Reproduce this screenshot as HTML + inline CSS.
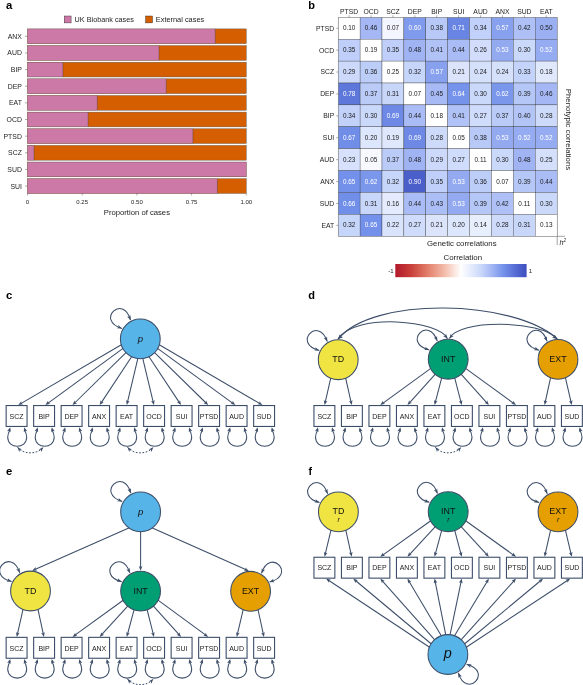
<!DOCTYPE html>
<html lang="en"><head><meta charset="utf-8"><title>Figure</title>
<style>html,body{margin:0;padding:0;background:#fff}svg{display:block}text{font-family:"Liberation Sans",Arial,sans-serif}</style></head><body>
<svg width="583" height="685" viewBox="0 0 583 685" fill="#222">
<rect width="583" height="685" fill="#fff"/>
<text x="6" y="9.2" font-size="11.3" font-weight="bold" fill="#000">a</text>
<rect x="64.2" y="16" width="6.9" height="6.9" fill="#cc79a7" stroke="#222" stroke-width="0.4"/>
<text x="74.6" y="22" font-size="7.1" textLength="59.3" lengthAdjust="spacingAndGlyphs">UK Biobank cases</text>
<rect x="145.6" y="16" width="6.9" height="6.9" fill="#d55e00" stroke="#222" stroke-width="0.4"/>
<text x="155.8" y="22" font-size="7.1" textLength="48.4" lengthAdjust="spacingAndGlyphs">External cases</text>
<rect x="27.5" y="28.9" width="218.8" height="14.8" fill="#d55e00"/>
<rect x="27.5" y="28.9" width="187.73" height="14.8" fill="#cc79a7"/>
<line x1="215.23" y1="28.9" x2="215.23" y2="43.7" stroke="#333" stroke-width="0.35"/>
<rect x="27.5" y="28.9" width="218.8" height="14.8" fill="none" stroke="#555" stroke-width="0.4"/>
<line x1="25" y1="36.3" x2="27.5" y2="36.3" stroke="#333" stroke-width="0.4"/>
<text x="21.9" y="38.75" font-size="6.9" text-anchor="end">ANX</text>
<rect x="27.5" y="45.54" width="218.8" height="14.8" fill="#d55e00"/>
<rect x="27.5" y="45.54" width="131.5" height="14.8" fill="#cc79a7"/>
<line x1="159" y1="45.54" x2="159" y2="60.34" stroke="#333" stroke-width="0.35"/>
<rect x="27.5" y="45.54" width="218.8" height="14.8" fill="none" stroke="#555" stroke-width="0.4"/>
<line x1="25" y1="52.94" x2="27.5" y2="52.94" stroke="#333" stroke-width="0.4"/>
<text x="21.9" y="55.39" font-size="6.9" text-anchor="end">AUD</text>
<rect x="27.5" y="62.18" width="218.8" height="14.8" fill="#d55e00"/>
<rect x="27.5" y="62.18" width="35.45" height="14.8" fill="#cc79a7"/>
<line x1="62.95" y1="62.18" x2="62.95" y2="76.98" stroke="#333" stroke-width="0.35"/>
<rect x="27.5" y="62.18" width="218.8" height="14.8" fill="none" stroke="#555" stroke-width="0.4"/>
<line x1="25" y1="69.58" x2="27.5" y2="69.58" stroke="#333" stroke-width="0.4"/>
<text x="21.9" y="72.03" font-size="6.9" text-anchor="end">BIP</text>
<rect x="27.5" y="78.82" width="218.8" height="14.8" fill="#d55e00"/>
<rect x="27.5" y="78.82" width="138.72" height="14.8" fill="#cc79a7"/>
<line x1="166.22" y1="78.82" x2="166.22" y2="93.62" stroke="#333" stroke-width="0.35"/>
<rect x="27.5" y="78.82" width="218.8" height="14.8" fill="none" stroke="#555" stroke-width="0.4"/>
<line x1="25" y1="86.22" x2="27.5" y2="86.22" stroke="#333" stroke-width="0.4"/>
<text x="21.9" y="88.67" font-size="6.9" text-anchor="end">DEP</text>
<rect x="27.5" y="95.46" width="218.8" height="14.8" fill="#d55e00"/>
<rect x="27.5" y="95.46" width="69.8" height="14.8" fill="#cc79a7"/>
<line x1="97.3" y1="95.46" x2="97.3" y2="110.26" stroke="#333" stroke-width="0.35"/>
<rect x="27.5" y="95.46" width="218.8" height="14.8" fill="none" stroke="#555" stroke-width="0.4"/>
<line x1="25" y1="102.86" x2="27.5" y2="102.86" stroke="#333" stroke-width="0.4"/>
<text x="21.9" y="105.31" font-size="6.9" text-anchor="end">EAT</text>
<rect x="27.5" y="112.1" width="218.8" height="14.8" fill="#d55e00"/>
<rect x="27.5" y="112.1" width="60.61" height="14.8" fill="#cc79a7"/>
<line x1="88.11" y1="112.1" x2="88.11" y2="126.9" stroke="#333" stroke-width="0.35"/>
<rect x="27.5" y="112.1" width="218.8" height="14.8" fill="none" stroke="#555" stroke-width="0.4"/>
<line x1="25" y1="119.5" x2="27.5" y2="119.5" stroke="#333" stroke-width="0.4"/>
<text x="21.9" y="121.95" font-size="6.9" text-anchor="end">OCD</text>
<rect x="27.5" y="128.74" width="218.8" height="14.8" fill="#d55e00"/>
<rect x="27.5" y="128.74" width="165.41" height="14.8" fill="#cc79a7"/>
<line x1="192.91" y1="128.74" x2="192.91" y2="143.54" stroke="#333" stroke-width="0.35"/>
<rect x="27.5" y="128.74" width="218.8" height="14.8" fill="none" stroke="#555" stroke-width="0.4"/>
<line x1="25" y1="136.14" x2="27.5" y2="136.14" stroke="#333" stroke-width="0.4"/>
<text x="21.9" y="138.59" font-size="6.9" text-anchor="end">PTSD</text>
<rect x="27.5" y="145.38" width="218.8" height="14.8" fill="#d55e00"/>
<rect x="27.5" y="145.38" width="6.56" height="14.8" fill="#cc79a7"/>
<line x1="34.06" y1="145.38" x2="34.06" y2="160.18" stroke="#333" stroke-width="0.35"/>
<rect x="27.5" y="145.38" width="218.8" height="14.8" fill="none" stroke="#555" stroke-width="0.4"/>
<line x1="25" y1="152.78" x2="27.5" y2="152.78" stroke="#333" stroke-width="0.4"/>
<text x="21.9" y="155.23" font-size="6.9" text-anchor="end">SCZ</text>
<rect x="27.5" y="162.02" width="218.8" height="14.8" fill="#d55e00"/>
<rect x="27.5" y="162.02" width="218.8" height="14.8" fill="#cc79a7"/>
<rect x="27.5" y="162.02" width="218.8" height="14.8" fill="none" stroke="#555" stroke-width="0.4"/>
<line x1="25" y1="169.42" x2="27.5" y2="169.42" stroke="#333" stroke-width="0.4"/>
<text x="21.9" y="171.87" font-size="6.9" text-anchor="end">SUD</text>
<rect x="27.5" y="178.66" width="218.8" height="14.8" fill="#d55e00"/>
<rect x="27.5" y="178.66" width="189.92" height="14.8" fill="#cc79a7"/>
<line x1="217.42" y1="178.66" x2="217.42" y2="193.46" stroke="#333" stroke-width="0.35"/>
<rect x="27.5" y="178.66" width="218.8" height="14.8" fill="none" stroke="#555" stroke-width="0.4"/>
<line x1="25" y1="186.06" x2="27.5" y2="186.06" stroke="#333" stroke-width="0.4"/>
<text x="21.9" y="188.51" font-size="6.9" text-anchor="end">SUI</text>
<line x1="27.5" y1="193.4" x2="27.5" y2="195.5" stroke="#333" stroke-width="0.4"/>
<text x="27.5" y="203.7" font-size="6" text-anchor="middle">0</text>
<line x1="82.2" y1="193.4" x2="82.2" y2="195.5" stroke="#333" stroke-width="0.4"/>
<text x="82.2" y="203.7" font-size="6" text-anchor="middle">0.25</text>
<line x1="136.9" y1="193.4" x2="136.9" y2="195.5" stroke="#333" stroke-width="0.4"/>
<text x="136.9" y="203.7" font-size="6" text-anchor="middle">0.50</text>
<line x1="191.6" y1="193.4" x2="191.6" y2="195.5" stroke="#333" stroke-width="0.4"/>
<text x="191.6" y="203.7" font-size="6" text-anchor="middle">0.75</text>
<line x1="246.3" y1="193.4" x2="246.3" y2="195.5" stroke="#333" stroke-width="0.4"/>
<text x="246.3" y="203.7" font-size="6" text-anchor="middle">1.00</text>
<text x="136.9" y="215.4" font-size="7.1" text-anchor="middle" textLength="66.2" lengthAdjust="spacingAndGlyphs">Proportion of cases</text>
<text x="308.2" y="8.9" font-size="11" font-weight="bold" fill="#000">b</text>
<rect x="338.2" y="17.3" width="21.9" height="21.9" fill="#ffffff" stroke="#222" stroke-width="0.3"/>
<rect x="360.1" y="17.3" width="21.9" height="21.9" fill="#a5b8f5" stroke="#222" stroke-width="0.3"/>
<rect x="382" y="17.3" width="21.9" height="21.9" fill="#f3f6fe" stroke="#222" stroke-width="0.3"/>
<rect x="403.9" y="17.3" width="21.9" height="21.9" fill="#809bed" stroke="#222" stroke-width="0.3"/>
<rect x="425.8" y="17.3" width="21.9" height="21.9" fill="#b8c9f8" stroke="#222" stroke-width="0.3"/>
<rect x="447.7" y="17.3" width="21.9" height="21.9" fill="#6985e3" stroke="#222" stroke-width="0.3"/>
<rect x="469.6" y="17.3" width="21.9" height="21.9" fill="#c1d1f9" stroke="#222" stroke-width="0.3"/>
<rect x="491.5" y="17.3" width="21.9" height="21.9" fill="#88a1ef" stroke="#222" stroke-width="0.3"/>
<rect x="513.4" y="17.3" width="21.9" height="21.9" fill="#aec0f6" stroke="#222" stroke-width="0.3"/>
<rect x="535.3" y="17.3" width="21.9" height="21.9" fill="#9bb0f3" stroke="#222" stroke-width="0.3"/>
<rect x="338.2" y="39.2" width="21.9" height="21.9" fill="#bfcff9" stroke="#222" stroke-width="0.3"/>
<rect x="360.1" y="39.2" width="21.9" height="21.9" fill="#ffffff" stroke="#222" stroke-width="0.3"/>
<rect x="382" y="39.2" width="21.9" height="21.9" fill="#bfcff9" stroke="#222" stroke-width="0.3"/>
<rect x="403.9" y="39.2" width="21.9" height="21.9" fill="#a0b4f4" stroke="#222" stroke-width="0.3"/>
<rect x="425.8" y="39.2" width="21.9" height="21.9" fill="#b1c2f7" stroke="#222" stroke-width="0.3"/>
<rect x="447.7" y="39.2" width="21.9" height="21.9" fill="#aabcf6" stroke="#222" stroke-width="0.3"/>
<rect x="469.6" y="39.2" width="21.9" height="21.9" fill="#d1ddfb" stroke="#222" stroke-width="0.3"/>
<rect x="491.5" y="39.2" width="21.9" height="21.9" fill="#93aaf1" stroke="#222" stroke-width="0.3"/>
<rect x="513.4" y="39.2" width="21.9" height="21.9" fill="#cad8fa" stroke="#222" stroke-width="0.3"/>
<rect x="535.3" y="39.2" width="21.9" height="21.9" fill="#95acf2" stroke="#222" stroke-width="0.3"/>
<rect x="338.2" y="61.1" width="21.9" height="21.9" fill="#ccd9fa" stroke="#222" stroke-width="0.3"/>
<rect x="360.1" y="61.1" width="21.9" height="21.9" fill="#bccdf8" stroke="#222" stroke-width="0.3"/>
<rect x="382" y="61.1" width="21.9" height="21.9" fill="#ffffff" stroke="#222" stroke-width="0.3"/>
<rect x="403.9" y="61.1" width="21.9" height="21.9" fill="#c6d5fa" stroke="#222" stroke-width="0.3"/>
<rect x="425.8" y="61.1" width="21.9" height="21.9" fill="#88a1ef" stroke="#222" stroke-width="0.3"/>
<rect x="447.7" y="61.1" width="21.9" height="21.9" fill="#dbe4fb" stroke="#222" stroke-width="0.3"/>
<rect x="469.6" y="61.1" width="21.9" height="21.9" fill="#d5e0fb" stroke="#222" stroke-width="0.3"/>
<rect x="491.5" y="61.1" width="21.9" height="21.9" fill="#d5e0fb" stroke="#222" stroke-width="0.3"/>
<rect x="513.4" y="61.1" width="21.9" height="21.9" fill="#c4d3fa" stroke="#222" stroke-width="0.3"/>
<rect x="535.3" y="61.1" width="21.9" height="21.9" fill="#e0e8fc" stroke="#222" stroke-width="0.3"/>
<rect x="338.2" y="83" width="21.9" height="21.9" fill="#5e77da" stroke="#222" stroke-width="0.3"/>
<rect x="360.1" y="83" width="21.9" height="21.9" fill="#bacbf8" stroke="#222" stroke-width="0.3"/>
<rect x="382" y="83" width="21.9" height="21.9" fill="#c8d6fa" stroke="#222" stroke-width="0.3"/>
<rect x="403.9" y="83" width="21.9" height="21.9" fill="#ffffff" stroke="#222" stroke-width="0.3"/>
<rect x="425.8" y="83" width="21.9" height="21.9" fill="#a7baf5" stroke="#222" stroke-width="0.3"/>
<rect x="447.7" y="83" width="21.9" height="21.9" fill="#7693eb" stroke="#222" stroke-width="0.3"/>
<rect x="469.6" y="83" width="21.9" height="21.9" fill="#cad8fa" stroke="#222" stroke-width="0.3"/>
<rect x="491.5" y="83" width="21.9" height="21.9" fill="#7b97ec" stroke="#222" stroke-width="0.3"/>
<rect x="513.4" y="83" width="21.9" height="21.9" fill="#b5c7f7" stroke="#222" stroke-width="0.3"/>
<rect x="535.3" y="83" width="21.9" height="21.9" fill="#a5b8f5" stroke="#222" stroke-width="0.3"/>
<rect x="338.2" y="104.9" width="21.9" height="21.9" fill="#c1d1f9" stroke="#222" stroke-width="0.3"/>
<rect x="360.1" y="104.9" width="21.9" height="21.9" fill="#cad8fa" stroke="#222" stroke-width="0.3"/>
<rect x="382" y="104.9" width="21.9" height="21.9" fill="#6d89e5" stroke="#222" stroke-width="0.3"/>
<rect x="403.9" y="104.9" width="21.9" height="21.9" fill="#aabcf6" stroke="#222" stroke-width="0.3"/>
<rect x="425.8" y="104.9" width="21.9" height="21.9" fill="#ffffff" stroke="#222" stroke-width="0.3"/>
<rect x="447.7" y="104.9" width="21.9" height="21.9" fill="#b1c2f7" stroke="#222" stroke-width="0.3"/>
<rect x="469.6" y="104.9" width="21.9" height="21.9" fill="#cfdcfb" stroke="#222" stroke-width="0.3"/>
<rect x="491.5" y="104.9" width="21.9" height="21.9" fill="#bacbf8" stroke="#222" stroke-width="0.3"/>
<rect x="513.4" y="104.9" width="21.9" height="21.9" fill="#b3c4f7" stroke="#222" stroke-width="0.3"/>
<rect x="535.3" y="104.9" width="21.9" height="21.9" fill="#cedafa" stroke="#222" stroke-width="0.3"/>
<rect x="338.2" y="126.8" width="21.9" height="21.9" fill="#708de8" stroke="#222" stroke-width="0.3"/>
<rect x="360.1" y="126.8" width="21.9" height="21.9" fill="#dce6fc" stroke="#222" stroke-width="0.3"/>
<rect x="382" y="126.8" width="21.9" height="21.9" fill="#dee7fc" stroke="#222" stroke-width="0.3"/>
<rect x="403.9" y="126.8" width="21.9" height="21.9" fill="#6d89e5" stroke="#222" stroke-width="0.3"/>
<rect x="425.8" y="126.8" width="21.9" height="21.9" fill="#cedafa" stroke="#222" stroke-width="0.3"/>
<rect x="447.7" y="126.8" width="21.9" height="21.9" fill="#ffffff" stroke="#222" stroke-width="0.3"/>
<rect x="469.6" y="126.8" width="21.9" height="21.9" fill="#b8c9f8" stroke="#222" stroke-width="0.3"/>
<rect x="491.5" y="126.8" width="21.9" height="21.9" fill="#93aaf1" stroke="#222" stroke-width="0.3"/>
<rect x="513.4" y="126.8" width="21.9" height="21.9" fill="#95acf2" stroke="#222" stroke-width="0.3"/>
<rect x="535.3" y="126.8" width="21.9" height="21.9" fill="#95acf2" stroke="#222" stroke-width="0.3"/>
<rect x="338.2" y="148.7" width="21.9" height="21.9" fill="#d7e1fb" stroke="#222" stroke-width="0.3"/>
<rect x="360.1" y="148.7" width="21.9" height="21.9" fill="#f7f9fe" stroke="#222" stroke-width="0.3"/>
<rect x="382" y="148.7" width="21.9" height="21.9" fill="#bacbf8" stroke="#222" stroke-width="0.3"/>
<rect x="403.9" y="148.7" width="21.9" height="21.9" fill="#a0b4f4" stroke="#222" stroke-width="0.3"/>
<rect x="425.8" y="148.7" width="21.9" height="21.9" fill="#ccd9fa" stroke="#222" stroke-width="0.3"/>
<rect x="447.7" y="148.7" width="21.9" height="21.9" fill="#cfdcfb" stroke="#222" stroke-width="0.3"/>
<rect x="469.6" y="148.7" width="21.9" height="21.9" fill="#ffffff" stroke="#222" stroke-width="0.3"/>
<rect x="491.5" y="148.7" width="21.9" height="21.9" fill="#cad8fa" stroke="#222" stroke-width="0.3"/>
<rect x="513.4" y="148.7" width="21.9" height="21.9" fill="#a0b4f4" stroke="#222" stroke-width="0.3"/>
<rect x="535.3" y="148.7" width="21.9" height="21.9" fill="#d3dffb" stroke="#222" stroke-width="0.3"/>
<rect x="338.2" y="170.6" width="21.9" height="21.9" fill="#7391ea" stroke="#222" stroke-width="0.3"/>
<rect x="360.1" y="170.6" width="21.9" height="21.9" fill="#7b97ec" stroke="#222" stroke-width="0.3"/>
<rect x="382" y="170.6" width="21.9" height="21.9" fill="#c6d5fa" stroke="#222" stroke-width="0.3"/>
<rect x="403.9" y="170.6" width="21.9" height="21.9" fill="#4b5fcb" stroke="#222" stroke-width="0.3"/>
<rect x="425.8" y="170.6" width="21.9" height="21.9" fill="#bfcff9" stroke="#222" stroke-width="0.3"/>
<rect x="447.7" y="170.6" width="21.9" height="21.9" fill="#93aaf1" stroke="#222" stroke-width="0.3"/>
<rect x="469.6" y="170.6" width="21.9" height="21.9" fill="#bccdf8" stroke="#222" stroke-width="0.3"/>
<rect x="491.5" y="170.6" width="21.9" height="21.9" fill="#ffffff" stroke="#222" stroke-width="0.3"/>
<rect x="513.4" y="170.6" width="21.9" height="21.9" fill="#b5c7f7" stroke="#222" stroke-width="0.3"/>
<rect x="535.3" y="170.6" width="21.9" height="21.9" fill="#aabcf6" stroke="#222" stroke-width="0.3"/>
<rect x="338.2" y="192.5" width="21.9" height="21.9" fill="#718fe9" stroke="#222" stroke-width="0.3"/>
<rect x="360.1" y="192.5" width="21.9" height="21.9" fill="#c8d6fa" stroke="#222" stroke-width="0.3"/>
<rect x="382" y="192.5" width="21.9" height="21.9" fill="#e4ebfc" stroke="#222" stroke-width="0.3"/>
<rect x="403.9" y="192.5" width="21.9" height="21.9" fill="#aabcf6" stroke="#222" stroke-width="0.3"/>
<rect x="425.8" y="192.5" width="21.9" height="21.9" fill="#acbef6" stroke="#222" stroke-width="0.3"/>
<rect x="447.7" y="192.5" width="21.9" height="21.9" fill="#93aaf1" stroke="#222" stroke-width="0.3"/>
<rect x="469.6" y="192.5" width="21.9" height="21.9" fill="#b5c7f7" stroke="#222" stroke-width="0.3"/>
<rect x="491.5" y="192.5" width="21.9" height="21.9" fill="#aec0f6" stroke="#222" stroke-width="0.3"/>
<rect x="513.4" y="192.5" width="21.9" height="21.9" fill="#ffffff" stroke="#222" stroke-width="0.3"/>
<rect x="535.3" y="192.5" width="21.9" height="21.9" fill="#cad8fa" stroke="#222" stroke-width="0.3"/>
<rect x="338.2" y="214.4" width="21.9" height="21.9" fill="#c6d5fa" stroke="#222" stroke-width="0.3"/>
<rect x="360.1" y="214.4" width="21.9" height="21.9" fill="#7391ea" stroke="#222" stroke-width="0.3"/>
<rect x="382" y="214.4" width="21.9" height="21.9" fill="#d9e3fb" stroke="#222" stroke-width="0.3"/>
<rect x="403.9" y="214.4" width="21.9" height="21.9" fill="#cfdcfb" stroke="#222" stroke-width="0.3"/>
<rect x="425.8" y="214.4" width="21.9" height="21.9" fill="#dbe4fb" stroke="#222" stroke-width="0.3"/>
<rect x="447.7" y="214.4" width="21.9" height="21.9" fill="#dce6fc" stroke="#222" stroke-width="0.3"/>
<rect x="469.6" y="214.4" width="21.9" height="21.9" fill="#e7eefc" stroke="#222" stroke-width="0.3"/>
<rect x="491.5" y="214.4" width="21.9" height="21.9" fill="#cedafa" stroke="#222" stroke-width="0.3"/>
<rect x="513.4" y="214.4" width="21.9" height="21.9" fill="#c8d6fa" stroke="#222" stroke-width="0.3"/>
<rect x="535.3" y="214.4" width="21.9" height="21.9" fill="#ffffff" stroke="#222" stroke-width="0.3"/>
<text x="349.15" y="30.35" font-size="6.4" text-anchor="middle" fill="#1a1a1a">0.10</text>
<text x="371.05" y="30.35" font-size="6.4" text-anchor="middle" fill="#1a1a1a">0.46</text>
<text x="392.95" y="30.35" font-size="6.4" text-anchor="middle" fill="#1a1a1a">0.07</text>
<text x="414.85" y="30.35" font-size="6.4" text-anchor="middle" fill="#ffffff">0.60</text>
<text x="436.75" y="30.35" font-size="6.4" text-anchor="middle" fill="#1a1a1a">0.38</text>
<text x="458.65" y="30.35" font-size="6.4" text-anchor="middle" fill="#ffffff">0.71</text>
<text x="480.55" y="30.35" font-size="6.4" text-anchor="middle" fill="#1a1a1a">0.34</text>
<text x="502.45" y="30.35" font-size="6.4" text-anchor="middle" fill="#ffffff">0.57</text>
<text x="524.35" y="30.35" font-size="6.4" text-anchor="middle" fill="#1a1a1a">0.42</text>
<text x="546.25" y="30.35" font-size="6.4" text-anchor="middle" fill="#1a1a1a">0.50</text>
<text x="349.15" y="52.25" font-size="6.4" text-anchor="middle" fill="#1a1a1a">0.35</text>
<text x="371.05" y="52.25" font-size="6.4" text-anchor="middle" fill="#1a1a1a">0.19</text>
<text x="392.95" y="52.25" font-size="6.4" text-anchor="middle" fill="#1a1a1a">0.35</text>
<text x="414.85" y="52.25" font-size="6.4" text-anchor="middle" fill="#1a1a1a">0.48</text>
<text x="436.75" y="52.25" font-size="6.4" text-anchor="middle" fill="#1a1a1a">0.41</text>
<text x="458.65" y="52.25" font-size="6.4" text-anchor="middle" fill="#1a1a1a">0.44</text>
<text x="480.55" y="52.25" font-size="6.4" text-anchor="middle" fill="#1a1a1a">0.26</text>
<text x="502.45" y="52.25" font-size="6.4" text-anchor="middle" fill="#ffffff">0.53</text>
<text x="524.35" y="52.25" font-size="6.4" text-anchor="middle" fill="#1a1a1a">0.30</text>
<text x="546.25" y="52.25" font-size="6.4" text-anchor="middle" fill="#ffffff">0.52</text>
<text x="349.15" y="74.15" font-size="6.4" text-anchor="middle" fill="#1a1a1a">0.29</text>
<text x="371.05" y="74.15" font-size="6.4" text-anchor="middle" fill="#1a1a1a">0.36</text>
<text x="392.95" y="74.15" font-size="6.4" text-anchor="middle" fill="#1a1a1a">0.25</text>
<text x="414.85" y="74.15" font-size="6.4" text-anchor="middle" fill="#1a1a1a">0.32</text>
<text x="436.75" y="74.15" font-size="6.4" text-anchor="middle" fill="#ffffff">0.57</text>
<text x="458.65" y="74.15" font-size="6.4" text-anchor="middle" fill="#1a1a1a">0.21</text>
<text x="480.55" y="74.15" font-size="6.4" text-anchor="middle" fill="#1a1a1a">0.24</text>
<text x="502.45" y="74.15" font-size="6.4" text-anchor="middle" fill="#1a1a1a">0.24</text>
<text x="524.35" y="74.15" font-size="6.4" text-anchor="middle" fill="#1a1a1a">0.33</text>
<text x="546.25" y="74.15" font-size="6.4" text-anchor="middle" fill="#1a1a1a">0.18</text>
<text x="349.15" y="96.05" font-size="6.4" text-anchor="middle" fill="#ffffff">0.78</text>
<text x="371.05" y="96.05" font-size="6.4" text-anchor="middle" fill="#1a1a1a">0.37</text>
<text x="392.95" y="96.05" font-size="6.4" text-anchor="middle" fill="#1a1a1a">0.31</text>
<text x="414.85" y="96.05" font-size="6.4" text-anchor="middle" fill="#1a1a1a">0.07</text>
<text x="436.75" y="96.05" font-size="6.4" text-anchor="middle" fill="#1a1a1a">0.45</text>
<text x="458.65" y="96.05" font-size="6.4" text-anchor="middle" fill="#ffffff">0.64</text>
<text x="480.55" y="96.05" font-size="6.4" text-anchor="middle" fill="#1a1a1a">0.30</text>
<text x="502.45" y="96.05" font-size="6.4" text-anchor="middle" fill="#ffffff">0.62</text>
<text x="524.35" y="96.05" font-size="6.4" text-anchor="middle" fill="#1a1a1a">0.39</text>
<text x="546.25" y="96.05" font-size="6.4" text-anchor="middle" fill="#1a1a1a">0.46</text>
<text x="349.15" y="117.95" font-size="6.4" text-anchor="middle" fill="#1a1a1a">0.34</text>
<text x="371.05" y="117.95" font-size="6.4" text-anchor="middle" fill="#1a1a1a">0.30</text>
<text x="392.95" y="117.95" font-size="6.4" text-anchor="middle" fill="#ffffff">0.69</text>
<text x="414.85" y="117.95" font-size="6.4" text-anchor="middle" fill="#1a1a1a">0.44</text>
<text x="436.75" y="117.95" font-size="6.4" text-anchor="middle" fill="#1a1a1a">0.18</text>
<text x="458.65" y="117.95" font-size="6.4" text-anchor="middle" fill="#1a1a1a">0.41</text>
<text x="480.55" y="117.95" font-size="6.4" text-anchor="middle" fill="#1a1a1a">0.27</text>
<text x="502.45" y="117.95" font-size="6.4" text-anchor="middle" fill="#1a1a1a">0.37</text>
<text x="524.35" y="117.95" font-size="6.4" text-anchor="middle" fill="#1a1a1a">0.40</text>
<text x="546.25" y="117.95" font-size="6.4" text-anchor="middle" fill="#1a1a1a">0.28</text>
<text x="349.15" y="139.85" font-size="6.4" text-anchor="middle" fill="#ffffff">0.67</text>
<text x="371.05" y="139.85" font-size="6.4" text-anchor="middle" fill="#1a1a1a">0.20</text>
<text x="392.95" y="139.85" font-size="6.4" text-anchor="middle" fill="#1a1a1a">0.19</text>
<text x="414.85" y="139.85" font-size="6.4" text-anchor="middle" fill="#ffffff">0.69</text>
<text x="436.75" y="139.85" font-size="6.4" text-anchor="middle" fill="#1a1a1a">0.28</text>
<text x="458.65" y="139.85" font-size="6.4" text-anchor="middle" fill="#1a1a1a">0.05</text>
<text x="480.55" y="139.85" font-size="6.4" text-anchor="middle" fill="#1a1a1a">0.38</text>
<text x="502.45" y="139.85" font-size="6.4" text-anchor="middle" fill="#ffffff">0.53</text>
<text x="524.35" y="139.85" font-size="6.4" text-anchor="middle" fill="#ffffff">0.52</text>
<text x="546.25" y="139.85" font-size="6.4" text-anchor="middle" fill="#ffffff">0.52</text>
<text x="349.15" y="161.75" font-size="6.4" text-anchor="middle" fill="#1a1a1a">0.23</text>
<text x="371.05" y="161.75" font-size="6.4" text-anchor="middle" fill="#1a1a1a">0.05</text>
<text x="392.95" y="161.75" font-size="6.4" text-anchor="middle" fill="#1a1a1a">0.37</text>
<text x="414.85" y="161.75" font-size="6.4" text-anchor="middle" fill="#1a1a1a">0.48</text>
<text x="436.75" y="161.75" font-size="6.4" text-anchor="middle" fill="#1a1a1a">0.29</text>
<text x="458.65" y="161.75" font-size="6.4" text-anchor="middle" fill="#1a1a1a">0.27</text>
<text x="480.55" y="161.75" font-size="6.4" text-anchor="middle" fill="#1a1a1a">0.11</text>
<text x="502.45" y="161.75" font-size="6.4" text-anchor="middle" fill="#1a1a1a">0.30</text>
<text x="524.35" y="161.75" font-size="6.4" text-anchor="middle" fill="#1a1a1a">0.48</text>
<text x="546.25" y="161.75" font-size="6.4" text-anchor="middle" fill="#1a1a1a">0.25</text>
<text x="349.15" y="183.65" font-size="6.4" text-anchor="middle" fill="#ffffff">0.65</text>
<text x="371.05" y="183.65" font-size="6.4" text-anchor="middle" fill="#ffffff">0.62</text>
<text x="392.95" y="183.65" font-size="6.4" text-anchor="middle" fill="#1a1a1a">0.32</text>
<text x="414.85" y="183.65" font-size="6.4" text-anchor="middle" fill="#ffffff">0.90</text>
<text x="436.75" y="183.65" font-size="6.4" text-anchor="middle" fill="#1a1a1a">0.35</text>
<text x="458.65" y="183.65" font-size="6.4" text-anchor="middle" fill="#ffffff">0.53</text>
<text x="480.55" y="183.65" font-size="6.4" text-anchor="middle" fill="#1a1a1a">0.36</text>
<text x="502.45" y="183.65" font-size="6.4" text-anchor="middle" fill="#1a1a1a">0.07</text>
<text x="524.35" y="183.65" font-size="6.4" text-anchor="middle" fill="#1a1a1a">0.39</text>
<text x="546.25" y="183.65" font-size="6.4" text-anchor="middle" fill="#1a1a1a">0.44</text>
<text x="349.15" y="205.55" font-size="6.4" text-anchor="middle" fill="#ffffff">0.66</text>
<text x="371.05" y="205.55" font-size="6.4" text-anchor="middle" fill="#1a1a1a">0.31</text>
<text x="392.95" y="205.55" font-size="6.4" text-anchor="middle" fill="#1a1a1a">0.16</text>
<text x="414.85" y="205.55" font-size="6.4" text-anchor="middle" fill="#1a1a1a">0.44</text>
<text x="436.75" y="205.55" font-size="6.4" text-anchor="middle" fill="#1a1a1a">0.43</text>
<text x="458.65" y="205.55" font-size="6.4" text-anchor="middle" fill="#ffffff">0.53</text>
<text x="480.55" y="205.55" font-size="6.4" text-anchor="middle" fill="#1a1a1a">0.39</text>
<text x="502.45" y="205.55" font-size="6.4" text-anchor="middle" fill="#1a1a1a">0.42</text>
<text x="524.35" y="205.55" font-size="6.4" text-anchor="middle" fill="#1a1a1a">0.11</text>
<text x="546.25" y="205.55" font-size="6.4" text-anchor="middle" fill="#1a1a1a">0.30</text>
<text x="349.15" y="227.45" font-size="6.4" text-anchor="middle" fill="#1a1a1a">0.32</text>
<text x="371.05" y="227.45" font-size="6.4" text-anchor="middle" fill="#ffffff">0.65</text>
<text x="392.95" y="227.45" font-size="6.4" text-anchor="middle" fill="#1a1a1a">0.22</text>
<text x="414.85" y="227.45" font-size="6.4" text-anchor="middle" fill="#1a1a1a">0.27</text>
<text x="436.75" y="227.45" font-size="6.4" text-anchor="middle" fill="#1a1a1a">0.21</text>
<text x="458.65" y="227.45" font-size="6.4" text-anchor="middle" fill="#1a1a1a">0.20</text>
<text x="480.55" y="227.45" font-size="6.4" text-anchor="middle" fill="#1a1a1a">0.14</text>
<text x="502.45" y="227.45" font-size="6.4" text-anchor="middle" fill="#1a1a1a">0.28</text>
<text x="524.35" y="227.45" font-size="6.4" text-anchor="middle" fill="#1a1a1a">0.31</text>
<text x="546.25" y="227.45" font-size="6.4" text-anchor="middle" fill="#1a1a1a">0.13</text>
<rect x="338.2" y="17.3" width="219" height="219" fill="none" stroke="#999" stroke-width="0.5"/>
<text x="349.15" y="13.6" font-size="6.8" text-anchor="middle">PTSD</text>
<line x1="349.15" y1="15.3" x2="349.15" y2="17.3" stroke="#333" stroke-width="0.4"/>
<text x="334.2" y="30.65" font-size="6.8" text-anchor="end">PTSD</text>
<line x1="336.2" y1="28.25" x2="338.2" y2="28.25" stroke="#333" stroke-width="0.4"/>
<text x="371.05" y="13.6" font-size="6.8" text-anchor="middle">OCD</text>
<line x1="371.05" y1="15.3" x2="371.05" y2="17.3" stroke="#333" stroke-width="0.4"/>
<text x="334.2" y="52.55" font-size="6.8" text-anchor="end">OCD</text>
<line x1="336.2" y1="50.15" x2="338.2" y2="50.15" stroke="#333" stroke-width="0.4"/>
<text x="392.95" y="13.6" font-size="6.8" text-anchor="middle">SCZ</text>
<line x1="392.95" y1="15.3" x2="392.95" y2="17.3" stroke="#333" stroke-width="0.4"/>
<text x="334.2" y="74.45" font-size="6.8" text-anchor="end">SCZ</text>
<line x1="336.2" y1="72.05" x2="338.2" y2="72.05" stroke="#333" stroke-width="0.4"/>
<text x="414.85" y="13.6" font-size="6.8" text-anchor="middle">DEP</text>
<line x1="414.85" y1="15.3" x2="414.85" y2="17.3" stroke="#333" stroke-width="0.4"/>
<text x="334.2" y="96.35" font-size="6.8" text-anchor="end">DEP</text>
<line x1="336.2" y1="93.95" x2="338.2" y2="93.95" stroke="#333" stroke-width="0.4"/>
<text x="436.75" y="13.6" font-size="6.8" text-anchor="middle">BIP</text>
<line x1="436.75" y1="15.3" x2="436.75" y2="17.3" stroke="#333" stroke-width="0.4"/>
<text x="334.2" y="118.25" font-size="6.8" text-anchor="end">BIP</text>
<line x1="336.2" y1="115.85" x2="338.2" y2="115.85" stroke="#333" stroke-width="0.4"/>
<text x="458.65" y="13.6" font-size="6.8" text-anchor="middle">SUI</text>
<line x1="458.65" y1="15.3" x2="458.65" y2="17.3" stroke="#333" stroke-width="0.4"/>
<text x="334.2" y="140.15" font-size="6.8" text-anchor="end">SUI</text>
<line x1="336.2" y1="137.75" x2="338.2" y2="137.75" stroke="#333" stroke-width="0.4"/>
<text x="480.55" y="13.6" font-size="6.8" text-anchor="middle">AUD</text>
<line x1="480.55" y1="15.3" x2="480.55" y2="17.3" stroke="#333" stroke-width="0.4"/>
<text x="334.2" y="162.05" font-size="6.8" text-anchor="end">AUD</text>
<line x1="336.2" y1="159.65" x2="338.2" y2="159.65" stroke="#333" stroke-width="0.4"/>
<text x="502.45" y="13.6" font-size="6.8" text-anchor="middle">ANX</text>
<line x1="502.45" y1="15.3" x2="502.45" y2="17.3" stroke="#333" stroke-width="0.4"/>
<text x="334.2" y="183.95" font-size="6.8" text-anchor="end">ANX</text>
<line x1="336.2" y1="181.55" x2="338.2" y2="181.55" stroke="#333" stroke-width="0.4"/>
<text x="524.35" y="13.6" font-size="6.8" text-anchor="middle">SUD</text>
<line x1="524.35" y1="15.3" x2="524.35" y2="17.3" stroke="#333" stroke-width="0.4"/>
<text x="334.2" y="205.85" font-size="6.8" text-anchor="end">SUD</text>
<line x1="336.2" y1="203.45" x2="338.2" y2="203.45" stroke="#333" stroke-width="0.4"/>
<text x="546.25" y="13.6" font-size="6.8" text-anchor="middle">EAT</text>
<line x1="546.25" y1="15.3" x2="546.25" y2="17.3" stroke="#333" stroke-width="0.4"/>
<text x="334.2" y="227.75" font-size="6.8" text-anchor="end">EAT</text>
<line x1="336.2" y1="225.35" x2="338.2" y2="225.35" stroke="#333" stroke-width="0.4"/>
<path d="M557.2,245.1 V236.3 H565" fill="none" stroke="#666" stroke-width="0.6"/>
<text x="559.4" y="245" font-size="7.3" font-style="italic" fill="#222222">h<tspan font-size="4.6" dy="-3.2">2</tspan></text>
<text transform="translate(566.2,129.5) rotate(90)" font-size="7.1" text-anchor="middle" fill="#222222" textLength="81.5" lengthAdjust="spacingAndGlyphs">Phenotypic correlations</text>
<text x="461.8" y="246.4" font-size="7.1" text-anchor="middle" textLength="69.5" lengthAdjust="spacingAndGlyphs">Genetic correlations</text>
<text x="462.8" y="259.8" font-size="7.1" text-anchor="middle" textLength="38.5" lengthAdjust="spacingAndGlyphs">Correlation</text>
<defs><linearGradient id="cb" x1="0" x2="1" y1="0" y2="0"><stop offset="0" stop-color="#b2182b"/><stop offset="0.12" stop-color="#c9403a"/><stop offset="0.25" stop-color="#e3806b"/><stop offset="0.38" stop-color="#f4bfae"/><stop offset="0.5" stop-color="#ffffff"/><stop offset="0.58" stop-color="#e4ebfc"/><stop offset="0.66" stop-color="#c6d5fa"/><stop offset="0.74" stop-color="#a0b4f4"/><stop offset="0.825" stop-color="#7391ea"/><stop offset="0.95" stop-color="#4b5fcb"/><stop offset="1" stop-color="#3e4ebe"/></linearGradient></defs>
<rect x="395.3" y="264" width="131.3" height="13.2" fill="url(#cb)"/>
<text x="393.6" y="273.3" font-size="6" text-anchor="end">-1</text>
<text x="528.8" y="273.3" font-size="6">1</text>
<text x="6" y="299" font-size="11.3" font-weight="bold" fill="#000">c</text>
<line x1="122.61" y1="343.97" x2="20.8" y2="403.58" stroke="#3d4e69" stroke-width="1.05"/>
<polygon points="18.21,405.1 21.33,401.13 21.31,403.28 23.2,404.32" fill="#3d4e69"/>
<line x1="124.08" y1="347.59" x2="47.77" y2="403.33" stroke="#3d4e69" stroke-width="1.05"/>
<polygon points="45.35,405.1 48.05,400.83 48.26,402.98 50.24,403.82" fill="#3d4e69"/>
<line x1="127" y1="351.61" x2="74.63" y2="403" stroke="#3d4e69" stroke-width="1.05"/>
<polygon points="72.49,405.1 74.55,400.49 75.06,402.58 77.14,403.13" fill="#3d4e69"/>
<line x1="132.41" y1="355.52" x2="101.29" y2="402.6" stroke="#3d4e69" stroke-width="1.05"/>
<polygon points="99.64,405.1 100.68,400.16 101.62,402.1 103.77,402.2" fill="#3d4e69"/>
<line x1="138.15" y1="357.17" x2="127.47" y2="402.18" stroke="#3d4e69" stroke-width="1.05"/>
<polygon points="126.78,405.1 126.06,400.1 127.61,401.6 129.66,400.95" fill="#3d4e69"/>
<line x1="142.45" y1="357.17" x2="153.22" y2="402.18" stroke="#3d4e69" stroke-width="1.05"/>
<polygon points="153.92,405.1 151.03,400.96 153.08,401.6 154.63,400.1" fill="#3d4e69"/>
<line x1="148.19" y1="355.52" x2="179.41" y2="402.6" stroke="#3d4e69" stroke-width="1.05"/>
<polygon points="181.06,405.1 176.92,402.21 179.07,402.1 180.01,400.16" fill="#3d4e69"/>
<line x1="153.6" y1="351.61" x2="206.06" y2="403" stroke="#3d4e69" stroke-width="1.05"/>
<polygon points="208.21,405.1 203.55,403.13 205.63,402.58 206.14,400.49" fill="#3d4e69"/>
<line x1="156.52" y1="347.59" x2="232.92" y2="403.33" stroke="#3d4e69" stroke-width="1.05"/>
<polygon points="235.35,405.1 230.46,403.82 232.44,402.98 232.64,400.84" fill="#3d4e69"/>
<line x1="157.99" y1="343.97" x2="259.9" y2="403.59" stroke="#3d4e69" stroke-width="1.05"/>
<polygon points="262.49,405.1 257.5,404.32 259.38,403.28 259.37,401.13" fill="#3d4e69"/>
<path d="M121.94,328.51 C95.21,320.26 123.25,293.18 130.56,320.18" fill="none" stroke="#3d4e69" stroke-width="1.05"/>
<polygon points="121.94,328.51 116.89,328.37 118.62,327.1 118.34,324.96" fill="#3d4e69"/>
<polygon points="130.56,320.18 127.14,316.46 129.26,316.83 130.59,315.13" fill="#3d4e69"/>
<circle cx="140.3" cy="338.9" r="19.9" fill="#56b4e9" stroke="#3d4e69" stroke-width="1.05"/>
<text x="140.3" y="341.6" font-size="9.6" text-anchor="middle" font-style="italic" fill="#111">p</text>
<path d="M10.2,429.25 C9,431.45 7.7,433.85 7.7,437.25 C7.9,449.35 26.5,449.35 26.7,437.25 C26.7,433.85 25.4,431.45 24.2,429.25" fill="none" stroke="#3d4e69" stroke-width="1.05"/>
<polygon points="10.2,427.25 10.65,432.28 9.18,430.7 7.1,431.24" fill="#3d4e69"/>
<polygon points="24.2,427.25 27.3,431.24 25.22,430.7 23.75,432.28" fill="#3d4e69"/>
<path d="M37.7,429.25 C36.5,431.45 35.2,433.85 35.2,437.25 C35.4,449.35 54,449.35 54.2,437.25 C54.2,433.85 52.9,431.45 51.7,429.25" fill="none" stroke="#3d4e69" stroke-width="1.05"/>
<polygon points="37.7,427.25 38.15,432.28 36.68,430.7 34.6,431.24" fill="#3d4e69"/>
<polygon points="51.7,427.25 54.8,431.24 52.72,430.7 51.25,432.28" fill="#3d4e69"/>
<path d="M65.2,429.25 C64,431.45 62.7,433.85 62.7,437.25 C62.9,449.35 81.5,449.35 81.7,437.25 C81.7,433.85 80.4,431.45 79.2,429.25" fill="none" stroke="#3d4e69" stroke-width="1.05"/>
<polygon points="65.2,427.25 65.65,432.28 64.18,430.7 62.1,431.24" fill="#3d4e69"/>
<polygon points="79.2,427.25 82.3,431.24 80.22,430.7 78.75,432.28" fill="#3d4e69"/>
<path d="M92.7,429.25 C91.5,431.45 90.2,433.85 90.2,437.25 C90.4,449.35 109,449.35 109.2,437.25 C109.2,433.85 107.9,431.45 106.7,429.25" fill="none" stroke="#3d4e69" stroke-width="1.05"/>
<polygon points="92.7,427.25 93.15,432.28 91.68,430.7 89.6,431.24" fill="#3d4e69"/>
<polygon points="106.7,427.25 109.8,431.24 107.72,430.7 106.25,432.28" fill="#3d4e69"/>
<path d="M120.2,429.25 C119,431.45 117.7,433.85 117.7,437.25 C117.9,449.35 136.5,449.35 136.7,437.25 C136.7,433.85 135.4,431.45 134.2,429.25" fill="none" stroke="#3d4e69" stroke-width="1.05"/>
<polygon points="120.2,427.25 120.65,432.28 119.18,430.7 117.1,431.24" fill="#3d4e69"/>
<polygon points="134.2,427.25 137.3,431.24 135.22,430.7 133.75,432.28" fill="#3d4e69"/>
<path d="M147.7,429.25 C146.5,431.45 145.2,433.85 145.2,437.25 C145.4,449.35 164,449.35 164.2,437.25 C164.2,433.85 162.9,431.45 161.7,429.25" fill="none" stroke="#3d4e69" stroke-width="1.05"/>
<polygon points="147.7,427.25 148.15,432.28 146.68,430.7 144.6,431.24" fill="#3d4e69"/>
<polygon points="161.7,427.25 164.8,431.24 162.72,430.7 161.25,432.28" fill="#3d4e69"/>
<path d="M175.2,429.25 C174,431.45 172.7,433.85 172.7,437.25 C172.9,449.35 191.5,449.35 191.7,437.25 C191.7,433.85 190.4,431.45 189.2,429.25" fill="none" stroke="#3d4e69" stroke-width="1.05"/>
<polygon points="175.2,427.25 175.65,432.28 174.18,430.7 172.1,431.24" fill="#3d4e69"/>
<polygon points="189.2,427.25 192.3,431.24 190.22,430.7 188.75,432.28" fill="#3d4e69"/>
<path d="M202.7,429.25 C201.5,431.45 200.2,433.85 200.2,437.25 C200.4,449.35 219,449.35 219.2,437.25 C219.2,433.85 217.9,431.45 216.7,429.25" fill="none" stroke="#3d4e69" stroke-width="1.05"/>
<polygon points="202.7,427.25 203.15,432.28 201.68,430.7 199.6,431.24" fill="#3d4e69"/>
<polygon points="216.7,427.25 219.8,431.24 217.72,430.7 216.25,432.28" fill="#3d4e69"/>
<path d="M230.2,429.25 C229,431.45 227.7,433.85 227.7,437.25 C227.9,449.35 246.5,449.35 246.7,437.25 C246.7,433.85 245.4,431.45 244.2,429.25" fill="none" stroke="#3d4e69" stroke-width="1.05"/>
<polygon points="230.2,427.25 230.65,432.28 229.18,430.7 227.1,431.24" fill="#3d4e69"/>
<polygon points="244.2,427.25 247.3,431.24 245.22,430.7 243.75,432.28" fill="#3d4e69"/>
<path d="M257.7,429.25 C256.5,431.45 255.2,433.85 255.2,437.25 C255.4,449.35 274,449.35 274.2,437.25 C274.2,433.85 272.9,431.45 271.7,429.25" fill="none" stroke="#3d4e69" stroke-width="1.05"/>
<polygon points="257.7,427.25 258.15,432.28 256.68,430.7 254.6,431.24" fill="#3d4e69"/>
<polygon points="271.7,427.25 274.8,431.24 272.72,430.7 271.25,432.28" fill="#3d4e69"/>
<path d="M17.5,447.15 C23.15,454.75 37.55,454.75 43.2,447.15" fill="none" stroke="#3d4e69" stroke-width="1.0" stroke-dasharray="1.7 1.6"/>
<polygon points="17.5,447.15 22.02,449.4 19.91,449.82 19.28,451.88" fill="#3d4e69"/>
<polygon points="43.2,447.15 41.42,451.88 40.79,449.82 38.68,449.4" fill="#3d4e69"/>
<path d="M127.5,447.15 C133.15,454.75 147.55,454.75 153.2,447.15" fill="none" stroke="#3d4e69" stroke-width="1.0" stroke-dasharray="1.7 1.6"/>
<polygon points="127.5,447.15 132.02,449.4 129.91,449.82 129.28,451.88" fill="#3d4e69"/>
<polygon points="153.2,447.15 151.42,451.88 150.79,449.82 148.68,449.4" fill="#3d4e69"/>
<rect x="6.15" y="405.55" width="20.9" height="20.9" fill="#fff" stroke="#3d4e69" stroke-width="1.1"/>
<text x="16.6" y="418.75" font-size="7" text-anchor="middle">SCZ</text>
<rect x="33.65" y="405.55" width="20.9" height="20.9" fill="#fff" stroke="#3d4e69" stroke-width="1.1"/>
<text x="44.1" y="418.75" font-size="7" text-anchor="middle">BIP</text>
<rect x="61.15" y="405.55" width="20.9" height="20.9" fill="#fff" stroke="#3d4e69" stroke-width="1.1"/>
<text x="71.6" y="418.75" font-size="7" text-anchor="middle">DEP</text>
<rect x="88.65" y="405.55" width="20.9" height="20.9" fill="#fff" stroke="#3d4e69" stroke-width="1.1"/>
<text x="99.1" y="418.75" font-size="7" text-anchor="middle">ANX</text>
<rect x="116.15" y="405.55" width="20.9" height="20.9" fill="#fff" stroke="#3d4e69" stroke-width="1.1"/>
<text x="126.6" y="418.75" font-size="7" text-anchor="middle">EAT</text>
<rect x="143.65" y="405.55" width="20.9" height="20.9" fill="#fff" stroke="#3d4e69" stroke-width="1.1"/>
<text x="154.1" y="418.75" font-size="7" text-anchor="middle">OCD</text>
<rect x="171.15" y="405.55" width="20.9" height="20.9" fill="#fff" stroke="#3d4e69" stroke-width="1.1"/>
<text x="181.6" y="418.75" font-size="7" text-anchor="middle">SUI</text>
<rect x="198.65" y="405.55" width="20.9" height="20.9" fill="#fff" stroke="#3d4e69" stroke-width="1.1"/>
<text x="209.1" y="418.75" font-size="7" text-anchor="middle">PTSD</text>
<rect x="226.15" y="405.55" width="20.9" height="20.9" fill="#fff" stroke="#3d4e69" stroke-width="1.1"/>
<text x="236.6" y="418.75" font-size="7" text-anchor="middle">AUD</text>
<rect x="253.65" y="405.55" width="20.9" height="20.9" fill="#fff" stroke="#3d4e69" stroke-width="1.1"/>
<text x="264.1" y="418.75" font-size="7" text-anchor="middle">SUD</text>
<text x="308.2" y="298.9" font-size="11" font-weight="bold" fill="#000">d</text>
<line x1="331.07" y1="376.66" x2="325.25" y2="402.18" stroke="#3d4e69" stroke-width="1.05"/>
<polygon points="324.58,405.1 323.82,400.11 325.38,401.59 327.43,400.93" fill="#3d4e69"/>
<line x1="345.33" y1="376.66" x2="351.06" y2="402.17" stroke="#3d4e69" stroke-width="1.05"/>
<polygon points="351.72,405.1 348.89,400.92 350.93,401.59 352.5,400.11" fill="#3d4e69"/>
<line x1="431.81" y1="367.55" x2="382.72" y2="403.33" stroke="#3d4e69" stroke-width="1.05"/>
<polygon points="380.29,405.1 383,400.84 383.2,402.98 385.18,403.83" fill="#3d4e69"/>
<line x1="436.23" y1="373.17" x2="409.45" y2="402.87" stroke="#3d4e69" stroke-width="1.05"/>
<polygon points="407.44,405.1 409.21,400.37 409.85,402.43 411.96,402.85" fill="#3d4e69"/>
<line x1="442.03" y1="376.53" x2="435.34" y2="402.2" stroke="#3d4e69" stroke-width="1.05"/>
<polygon points="434.58,405.1 433.98,400.09 435.49,401.62 437.56,401.02" fill="#3d4e69"/>
<line x1="454.37" y1="376.53" x2="460.97" y2="402.19" stroke="#3d4e69" stroke-width="1.05"/>
<polygon points="461.72,405.1 458.76,401.01 460.82,401.61 462.34,400.09" fill="#3d4e69"/>
<line x1="460.17" y1="373.17" x2="486.86" y2="402.87" stroke="#3d4e69" stroke-width="1.05"/>
<polygon points="488.86,405.1 484.35,402.84 486.46,402.42 487.1,400.37" fill="#3d4e69"/>
<line x1="464.59" y1="367.55" x2="513.58" y2="403.33" stroke="#3d4e69" stroke-width="1.05"/>
<polygon points="516.01,405.1 511.12,403.82 513.1,402.98 513.3,400.83" fill="#3d4e69"/>
<line x1="550.87" y1="376.36" x2="545.22" y2="402.17" stroke="#3d4e69" stroke-width="1.05"/>
<polygon points="544.58,405.1 543.77,400.11 545.35,401.58 547.39,400.9" fill="#3d4e69"/>
<line x1="565.13" y1="376.36" x2="571.05" y2="402.18" stroke="#3d4e69" stroke-width="1.05"/>
<polygon points="571.72,405.1 568.87,400.93 570.91,401.59 572.47,400.11" fill="#3d4e69"/>
<path d="M337.9,339 C355.9,312 439.9,320.5 447.5,338.7" fill="none" stroke="#3d4e69" stroke-width="1.05"/>
<polygon points="337.9,339 339.79,334.32 340.38,336.39 342.48,336.86" fill="#3d4e69"/>
<polygon points="447.5,338.7 443.16,336.11 445.3,335.85 446.09,333.85" fill="#3d4e69"/>
<path d="M449.4,338.6 C457.6,318.9 541.2,319.9 557,338.9" fill="none" stroke="#3d4e69" stroke-width="1.05"/>
<polygon points="449.4,338.6 450.81,333.75 451.6,335.75 453.74,336.01" fill="#3d4e69"/>
<polygon points="557,338.9 552.21,337.3 554.24,336.59 554.59,334.46" fill="#3d4e69"/>
<path d="M338.3,339 C372.1,296.3 513.3,299.1 557.3,338.9" fill="none" stroke="#3d4e69" stroke-width="1.05"/>
<polygon points="338.3,339 340.48,334.44 340.93,336.55 343,337.15" fill="#3d4e69"/>
<polygon points="557.3,338.9 552.4,337.66 554.37,336.8 554.56,334.66" fill="#3d4e69"/>
<path d="M319.24,350.45 C292.05,343.85 318.39,315.11 327.33,341.61" fill="none" stroke="#3d4e69" stroke-width="1.05"/>
<polygon points="319.24,350.45 314.19,350.62 315.84,349.24 315.43,347.13" fill="#3d4e69"/>
<polygon points="327.33,341.61 323.69,338.11 325.83,338.34 327.06,336.57" fill="#3d4e69"/>
<path d="M429.24,349.95 C402.05,343.35 428.39,314.61 437.33,341.11" fill="none" stroke="#3d4e69" stroke-width="1.05"/>
<polygon points="429.24,349.95 424.19,350.12 425.84,348.74 425.43,346.63" fill="#3d4e69"/>
<polygon points="437.33,341.11 433.69,337.61 435.83,337.84 437.06,336.07" fill="#3d4e69"/>
<path d="M539.04,350.15 C511.85,343.55 538.19,314.81 547.13,341.31" fill="none" stroke="#3d4e69" stroke-width="1.05"/>
<polygon points="539.04,350.15 533.99,350.32 535.64,348.94 535.23,346.83" fill="#3d4e69"/>
<polygon points="547.13,341.31 543.49,337.81 545.63,338.04 546.86,336.27" fill="#3d4e69"/>
<circle cx="338.2" cy="359.7" r="19.9" fill="#f0e442" stroke="#3d4e69" stroke-width="1.05"/>
<text x="338.2" y="362.3" font-size="8.9" text-anchor="middle" fill="#111">TD</text>
<circle cx="448.2" cy="359.2" r="19.9" fill="#009e73" stroke="#3d4e69" stroke-width="1.05"/>
<text x="448.2" y="361.8" font-size="8.9" text-anchor="middle" fill="#111">INT</text>
<circle cx="558" cy="359.4" r="19.9" fill="#e69f00" stroke="#3d4e69" stroke-width="1.05"/>
<text x="558" y="362" font-size="8.9" text-anchor="middle" fill="#111">EXT</text>
<path d="M318,429.25 C316.8,431.45 315.5,433.85 315.5,437.25 C315.7,449.35 334.3,449.35 334.5,437.25 C334.5,433.85 333.2,431.45 332,429.25" fill="none" stroke="#3d4e69" stroke-width="1.05"/>
<polygon points="318,427.25 318.45,432.28 316.98,430.7 314.9,431.24" fill="#3d4e69"/>
<polygon points="332,427.25 335.1,431.24 333.02,430.7 331.55,432.28" fill="#3d4e69"/>
<path d="M345.5,429.25 C344.3,431.45 343,433.85 343,437.25 C343.2,449.35 361.8,449.35 362,437.25 C362,433.85 360.7,431.45 359.5,429.25" fill="none" stroke="#3d4e69" stroke-width="1.05"/>
<polygon points="345.5,427.25 345.95,432.28 344.48,430.7 342.4,431.24" fill="#3d4e69"/>
<polygon points="359.5,427.25 362.6,431.24 360.52,430.7 359.05,432.28" fill="#3d4e69"/>
<path d="M373,429.25 C371.8,431.45 370.5,433.85 370.5,437.25 C370.7,449.35 389.3,449.35 389.5,437.25 C389.5,433.85 388.2,431.45 387,429.25" fill="none" stroke="#3d4e69" stroke-width="1.05"/>
<polygon points="373,427.25 373.45,432.28 371.98,430.7 369.9,431.24" fill="#3d4e69"/>
<polygon points="387,427.25 390.1,431.24 388.02,430.7 386.55,432.28" fill="#3d4e69"/>
<path d="M400.5,429.25 C399.3,431.45 398,433.85 398,437.25 C398.2,449.35 416.8,449.35 417,437.25 C417,433.85 415.7,431.45 414.5,429.25" fill="none" stroke="#3d4e69" stroke-width="1.05"/>
<polygon points="400.5,427.25 400.95,432.28 399.48,430.7 397.4,431.24" fill="#3d4e69"/>
<polygon points="414.5,427.25 417.6,431.24 415.52,430.7 414.05,432.28" fill="#3d4e69"/>
<path d="M428,429.25 C426.8,431.45 425.5,433.85 425.5,437.25 C425.7,449.35 444.3,449.35 444.5,437.25 C444.5,433.85 443.2,431.45 442,429.25" fill="none" stroke="#3d4e69" stroke-width="1.05"/>
<polygon points="428,427.25 428.45,432.28 426.98,430.7 424.9,431.24" fill="#3d4e69"/>
<polygon points="442,427.25 445.1,431.24 443.02,430.7 441.55,432.28" fill="#3d4e69"/>
<path d="M455.5,429.25 C454.3,431.45 453,433.85 453,437.25 C453.2,449.35 471.8,449.35 472,437.25 C472,433.85 470.7,431.45 469.5,429.25" fill="none" stroke="#3d4e69" stroke-width="1.05"/>
<polygon points="455.5,427.25 455.95,432.28 454.48,430.7 452.4,431.24" fill="#3d4e69"/>
<polygon points="469.5,427.25 472.6,431.24 470.52,430.7 469.05,432.28" fill="#3d4e69"/>
<path d="M483,429.25 C481.8,431.45 480.5,433.85 480.5,437.25 C480.7,449.35 499.3,449.35 499.5,437.25 C499.5,433.85 498.2,431.45 497,429.25" fill="none" stroke="#3d4e69" stroke-width="1.05"/>
<polygon points="483,427.25 483.45,432.28 481.98,430.7 479.9,431.24" fill="#3d4e69"/>
<polygon points="497,427.25 500.1,431.24 498.02,430.7 496.55,432.28" fill="#3d4e69"/>
<path d="M510.5,429.25 C509.3,431.45 508,433.85 508,437.25 C508.2,449.35 526.8,449.35 527,437.25 C527,433.85 525.7,431.45 524.5,429.25" fill="none" stroke="#3d4e69" stroke-width="1.05"/>
<polygon points="510.5,427.25 510.95,432.28 509.48,430.7 507.4,431.24" fill="#3d4e69"/>
<polygon points="524.5,427.25 527.6,431.24 525.52,430.7 524.05,432.28" fill="#3d4e69"/>
<path d="M538,429.25 C536.8,431.45 535.5,433.85 535.5,437.25 C535.7,449.35 554.3,449.35 554.5,437.25 C554.5,433.85 553.2,431.45 552,429.25" fill="none" stroke="#3d4e69" stroke-width="1.05"/>
<polygon points="538,427.25 538.45,432.28 536.98,430.7 534.9,431.24" fill="#3d4e69"/>
<polygon points="552,427.25 555.1,431.24 553.02,430.7 551.55,432.28" fill="#3d4e69"/>
<path d="M565.5,429.25 C564.3,431.45 563,433.85 563,437.25 C563.2,449.35 581.8,449.35 582,437.25 C582,433.85 580.7,431.45 579.5,429.25" fill="none" stroke="#3d4e69" stroke-width="1.05"/>
<polygon points="565.5,427.25 565.95,432.28 564.48,430.7 562.4,431.24" fill="#3d4e69"/>
<polygon points="579.5,427.25 582.6,431.24 580.52,430.7 579.05,432.28" fill="#3d4e69"/>
<path d="M435.3,447.15 C440.95,454.75 455.35,454.75 461,447.15" fill="none" stroke="#3d4e69" stroke-width="1.0" stroke-dasharray="1.7 1.6"/>
<polygon points="435.3,447.15 439.82,449.4 437.71,449.82 437.08,451.88" fill="#3d4e69"/>
<polygon points="461,447.15 459.22,451.88 458.59,449.82 456.48,449.4" fill="#3d4e69"/>
<rect x="313.95" y="405.55" width="20.9" height="20.9" fill="#fff" stroke="#3d4e69" stroke-width="1.1"/>
<text x="324.4" y="418.75" font-size="7" text-anchor="middle">SCZ</text>
<rect x="341.45" y="405.55" width="20.9" height="20.9" fill="#fff" stroke="#3d4e69" stroke-width="1.1"/>
<text x="351.9" y="418.75" font-size="7" text-anchor="middle">BIP</text>
<rect x="368.95" y="405.55" width="20.9" height="20.9" fill="#fff" stroke="#3d4e69" stroke-width="1.1"/>
<text x="379.4" y="418.75" font-size="7" text-anchor="middle">DEP</text>
<rect x="396.45" y="405.55" width="20.9" height="20.9" fill="#fff" stroke="#3d4e69" stroke-width="1.1"/>
<text x="406.9" y="418.75" font-size="7" text-anchor="middle">ANX</text>
<rect x="423.95" y="405.55" width="20.9" height="20.9" fill="#fff" stroke="#3d4e69" stroke-width="1.1"/>
<text x="434.4" y="418.75" font-size="7" text-anchor="middle">EAT</text>
<rect x="451.45" y="405.55" width="20.9" height="20.9" fill="#fff" stroke="#3d4e69" stroke-width="1.1"/>
<text x="461.9" y="418.75" font-size="7" text-anchor="middle">OCD</text>
<rect x="478.95" y="405.55" width="20.9" height="20.9" fill="#fff" stroke="#3d4e69" stroke-width="1.1"/>
<text x="489.4" y="418.75" font-size="7" text-anchor="middle">SUI</text>
<rect x="506.45" y="405.55" width="20.9" height="20.9" fill="#fff" stroke="#3d4e69" stroke-width="1.1"/>
<text x="516.9" y="418.75" font-size="7" text-anchor="middle">PTSD</text>
<rect x="533.95" y="405.55" width="20.9" height="20.9" fill="#fff" stroke="#3d4e69" stroke-width="1.1"/>
<text x="544.4" y="418.75" font-size="7" text-anchor="middle">AUD</text>
<rect x="561.45" y="405.55" width="20.9" height="20.9" fill="#fff" stroke="#3d4e69" stroke-width="1.1"/>
<text x="571.9" y="418.75" font-size="7" text-anchor="middle">SUD</text>
<text x="6" y="475.2" font-size="11.3" font-weight="bold" fill="#000">e</text>
<line x1="130.47" y1="527.26" x2="34.9" y2="569.49" stroke="#3d4e69" stroke-width="1.05"/>
<polygon points="32.15,570.7 35.7,567.11 35.44,569.25 37.2,570.49" fill="#3d4e69"/>
<line x1="140.6" y1="530.3" x2="140.6" y2="567.8" stroke="#3d4e69" stroke-width="1.05"/>
<polygon points="140.6,570.8 138.75,566.1 140.6,567.2 142.45,566.1" fill="#3d4e69"/>
<line x1="150.73" y1="527.26" x2="246.21" y2="569.78" stroke="#3d4e69" stroke-width="1.05"/>
<polygon points="248.95,571 243.9,570.78 245.66,569.54 245.41,567.4" fill="#3d4e69"/>
<path d="M122.24,501.51 C95.51,493.26 123.55,466.18 130.86,493.18" fill="none" stroke="#3d4e69" stroke-width="1.05"/>
<polygon points="122.24,501.51 117.19,501.37 118.92,500.1 118.64,497.96" fill="#3d4e69"/>
<polygon points="130.86,493.18 127.44,489.46 129.56,489.83 130.89,488.13" fill="#3d4e69"/>
<circle cx="140.6" cy="511.9" r="19.9" fill="#56b4e9" stroke="#3d4e69" stroke-width="1.05"/>
<text x="140.6" y="514.6" font-size="9.6" text-anchor="middle" font-style="italic" fill="#111">p</text>
<line x1="23.37" y1="607.96" x2="17.45" y2="633.97" stroke="#3d4e69" stroke-width="1.05"/>
<polygon points="16.78,636.9 16.02,631.91 17.58,633.39 19.63,632.73" fill="#3d4e69"/>
<line x1="37.63" y1="607.96" x2="43.29" y2="633.97" stroke="#3d4e69" stroke-width="1.05"/>
<polygon points="43.92,636.9 41.12,632.7 43.16,633.38 44.73,631.91" fill="#3d4e69"/>
<line x1="124.21" y1="599.45" x2="74.93" y2="635.14" stroke="#3d4e69" stroke-width="1.05"/>
<polygon points="72.5,636.9 75.22,632.64 75.41,634.79 77.39,635.64" fill="#3d4e69"/>
<line x1="128.63" y1="605.07" x2="101.66" y2="634.68" stroke="#3d4e69" stroke-width="1.05"/>
<polygon points="99.64,636.9 101.44,632.18 102.06,634.24 104.17,634.67" fill="#3d4e69"/>
<line x1="134.43" y1="608.43" x2="127.56" y2="634" stroke="#3d4e69" stroke-width="1.05"/>
<polygon points="126.78,636.9 126.21,631.88 127.72,633.42 129.79,632.84" fill="#3d4e69"/>
<line x1="146.77" y1="608.43" x2="153.19" y2="633.99" stroke="#3d4e69" stroke-width="1.05"/>
<polygon points="153.92,636.9 150.98,632.79 153.05,633.41 154.57,631.89" fill="#3d4e69"/>
<line x1="152.57" y1="605.07" x2="179.07" y2="634.66" stroke="#3d4e69" stroke-width="1.05"/>
<polygon points="181.07,636.9 176.55,634.63 178.67,634.22 179.31,632.16" fill="#3d4e69"/>
<line x1="156.99" y1="599.45" x2="205.79" y2="635.13" stroke="#3d4e69" stroke-width="1.05"/>
<polygon points="208.21,636.9 203.32,635.62 205.3,634.78 205.51,632.63" fill="#3d4e69"/>
<line x1="243.47" y1="608.26" x2="237.46" y2="633.98" stroke="#3d4e69" stroke-width="1.05"/>
<polygon points="236.78,636.9 236.05,631.9 237.6,633.39 239.65,632.74" fill="#3d4e69"/>
<line x1="257.73" y1="608.26" x2="263.29" y2="633.97" stroke="#3d4e69" stroke-width="1.05"/>
<polygon points="263.92,636.9 261.12,632.7 263.16,633.38 264.74,631.92" fill="#3d4e69"/>
<path d="M11.62,581.59 C-15.51,574.75 11.08,546.24 19.79,572.82" fill="none" stroke="#3d4e69" stroke-width="1.05"/>
<polygon points="11.62,581.59 6.57,581.71 8.24,580.35 7.84,578.23" fill="#3d4e69"/>
<polygon points="19.79,572.82 16.18,569.28 18.32,569.53 19.56,567.77" fill="#3d4e69"/>
<path d="M121.72,581.69 C94.59,574.85 121.18,546.34 129.89,572.92" fill="none" stroke="#3d4e69" stroke-width="1.05"/>
<polygon points="121.72,581.69 116.67,581.81 118.34,580.45 117.94,578.33" fill="#3d4e69"/>
<polygon points="129.89,572.92 126.28,569.38 128.42,569.63 129.66,567.87" fill="#3d4e69"/>
<path d="M261.47,573.21 C270.41,546.71 296.75,575.45 269.56,582.05" fill="none" stroke="#3d4e69" stroke-width="1.05"/>
<polygon points="261.47,573.21 261.74,568.17 262.97,569.94 265.11,569.71" fill="#3d4e69"/>
<polygon points="269.56,582.05 273.37,578.73 272.96,580.84 274.61,582.22" fill="#3d4e69"/>
<circle cx="30.5" cy="591" r="19.9" fill="#f0e442" stroke="#3d4e69" stroke-width="1.05"/>
<text x="30.5" y="593.6" font-size="8.9" text-anchor="middle" fill="#111">TD</text>
<circle cx="140.6" cy="591.1" r="19.9" fill="#009e73" stroke="#3d4e69" stroke-width="1.05"/>
<text x="140.6" y="593.7" font-size="8.9" text-anchor="middle" fill="#111">INT</text>
<circle cx="250.6" cy="591.3" r="19.9" fill="#e69f00" stroke="#3d4e69" stroke-width="1.05"/>
<text x="250.6" y="593.9" font-size="8.9" text-anchor="middle" fill="#111">EXT</text>
<path d="M10.2,661.05 C9,663.25 7.7,665.65 7.7,669.05 C7.9,681.15 26.5,681.15 26.7,669.05 C26.7,665.65 25.4,663.25 24.2,661.05" fill="none" stroke="#3d4e69" stroke-width="1.05"/>
<polygon points="10.2,659.05 10.65,664.08 9.18,662.5 7.1,663.04" fill="#3d4e69"/>
<polygon points="24.2,659.05 27.3,663.04 25.22,662.5 23.75,664.08" fill="#3d4e69"/>
<path d="M37.7,661.05 C36.5,663.25 35.2,665.65 35.2,669.05 C35.4,681.15 54,681.15 54.2,669.05 C54.2,665.65 52.9,663.25 51.7,661.05" fill="none" stroke="#3d4e69" stroke-width="1.05"/>
<polygon points="37.7,659.05 38.15,664.08 36.68,662.5 34.6,663.04" fill="#3d4e69"/>
<polygon points="51.7,659.05 54.8,663.04 52.72,662.5 51.25,664.08" fill="#3d4e69"/>
<path d="M65.2,661.05 C64,663.25 62.7,665.65 62.7,669.05 C62.9,681.15 81.5,681.15 81.7,669.05 C81.7,665.65 80.4,663.25 79.2,661.05" fill="none" stroke="#3d4e69" stroke-width="1.05"/>
<polygon points="65.2,659.05 65.65,664.08 64.18,662.5 62.1,663.04" fill="#3d4e69"/>
<polygon points="79.2,659.05 82.3,663.04 80.22,662.5 78.75,664.08" fill="#3d4e69"/>
<path d="M92.7,661.05 C91.5,663.25 90.2,665.65 90.2,669.05 C90.4,681.15 109,681.15 109.2,669.05 C109.2,665.65 107.9,663.25 106.7,661.05" fill="none" stroke="#3d4e69" stroke-width="1.05"/>
<polygon points="92.7,659.05 93.15,664.08 91.68,662.5 89.6,663.04" fill="#3d4e69"/>
<polygon points="106.7,659.05 109.8,663.04 107.72,662.5 106.25,664.08" fill="#3d4e69"/>
<path d="M120.2,661.05 C119,663.25 117.7,665.65 117.7,669.05 C117.9,681.15 136.5,681.15 136.7,669.05 C136.7,665.65 135.4,663.25 134.2,661.05" fill="none" stroke="#3d4e69" stroke-width="1.05"/>
<polygon points="120.2,659.05 120.65,664.08 119.18,662.5 117.1,663.04" fill="#3d4e69"/>
<polygon points="134.2,659.05 137.3,663.04 135.22,662.5 133.75,664.08" fill="#3d4e69"/>
<path d="M147.7,661.05 C146.5,663.25 145.2,665.65 145.2,669.05 C145.4,681.15 164,681.15 164.2,669.05 C164.2,665.65 162.9,663.25 161.7,661.05" fill="none" stroke="#3d4e69" stroke-width="1.05"/>
<polygon points="147.7,659.05 148.15,664.08 146.68,662.5 144.6,663.04" fill="#3d4e69"/>
<polygon points="161.7,659.05 164.8,663.04 162.72,662.5 161.25,664.08" fill="#3d4e69"/>
<path d="M175.2,661.05 C174,663.25 172.7,665.65 172.7,669.05 C172.9,681.15 191.5,681.15 191.7,669.05 C191.7,665.65 190.4,663.25 189.2,661.05" fill="none" stroke="#3d4e69" stroke-width="1.05"/>
<polygon points="175.2,659.05 175.65,664.08 174.18,662.5 172.1,663.04" fill="#3d4e69"/>
<polygon points="189.2,659.05 192.3,663.04 190.22,662.5 188.75,664.08" fill="#3d4e69"/>
<path d="M202.7,661.05 C201.5,663.25 200.2,665.65 200.2,669.05 C200.4,681.15 219,681.15 219.2,669.05 C219.2,665.65 217.9,663.25 216.7,661.05" fill="none" stroke="#3d4e69" stroke-width="1.05"/>
<polygon points="202.7,659.05 203.15,664.08 201.68,662.5 199.6,663.04" fill="#3d4e69"/>
<polygon points="216.7,659.05 219.8,663.04 217.72,662.5 216.25,664.08" fill="#3d4e69"/>
<path d="M230.2,661.05 C229,663.25 227.7,665.65 227.7,669.05 C227.9,681.15 246.5,681.15 246.7,669.05 C246.7,665.65 245.4,663.25 244.2,661.05" fill="none" stroke="#3d4e69" stroke-width="1.05"/>
<polygon points="230.2,659.05 230.65,664.08 229.18,662.5 227.1,663.04" fill="#3d4e69"/>
<polygon points="244.2,659.05 247.3,663.04 245.22,662.5 243.75,664.08" fill="#3d4e69"/>
<path d="M257.7,661.05 C256.5,663.25 255.2,665.65 255.2,669.05 C255.4,681.15 274,681.15 274.2,669.05 C274.2,665.65 272.9,663.25 271.7,661.05" fill="none" stroke="#3d4e69" stroke-width="1.05"/>
<polygon points="257.7,659.05 258.15,664.08 256.68,662.5 254.6,663.04" fill="#3d4e69"/>
<polygon points="271.7,659.05 274.8,663.04 272.72,662.5 271.25,664.08" fill="#3d4e69"/>
<path d="M127.5,678.95 C133.15,686.55 147.55,686.55 153.2,678.95" fill="none" stroke="#3d4e69" stroke-width="1.0" stroke-dasharray="1.7 1.6"/>
<polygon points="127.5,678.95 132.02,681.2 129.91,681.62 129.28,683.68" fill="#3d4e69"/>
<polygon points="153.2,678.95 151.42,683.68 150.79,681.62 148.68,681.2" fill="#3d4e69"/>
<rect x="6.15" y="637.35" width="20.9" height="20.9" fill="#fff" stroke="#3d4e69" stroke-width="1.1"/>
<text x="16.6" y="650.55" font-size="7" text-anchor="middle">SCZ</text>
<rect x="33.65" y="637.35" width="20.9" height="20.9" fill="#fff" stroke="#3d4e69" stroke-width="1.1"/>
<text x="44.1" y="650.55" font-size="7" text-anchor="middle">BIP</text>
<rect x="61.15" y="637.35" width="20.9" height="20.9" fill="#fff" stroke="#3d4e69" stroke-width="1.1"/>
<text x="71.6" y="650.55" font-size="7" text-anchor="middle">DEP</text>
<rect x="88.65" y="637.35" width="20.9" height="20.9" fill="#fff" stroke="#3d4e69" stroke-width="1.1"/>
<text x="99.1" y="650.55" font-size="7" text-anchor="middle">ANX</text>
<rect x="116.15" y="637.35" width="20.9" height="20.9" fill="#fff" stroke="#3d4e69" stroke-width="1.1"/>
<text x="126.6" y="650.55" font-size="7" text-anchor="middle">EAT</text>
<rect x="143.65" y="637.35" width="20.9" height="20.9" fill="#fff" stroke="#3d4e69" stroke-width="1.1"/>
<text x="154.1" y="650.55" font-size="7" text-anchor="middle">OCD</text>
<rect x="171.15" y="637.35" width="20.9" height="20.9" fill="#fff" stroke="#3d4e69" stroke-width="1.1"/>
<text x="181.6" y="650.55" font-size="7" text-anchor="middle">SUI</text>
<rect x="198.65" y="637.35" width="20.9" height="20.9" fill="#fff" stroke="#3d4e69" stroke-width="1.1"/>
<text x="209.1" y="650.55" font-size="7" text-anchor="middle">PTSD</text>
<rect x="226.15" y="637.35" width="20.9" height="20.9" fill="#fff" stroke="#3d4e69" stroke-width="1.1"/>
<text x="236.6" y="650.55" font-size="7" text-anchor="middle">AUD</text>
<rect x="253.65" y="637.35" width="20.9" height="20.9" fill="#fff" stroke="#3d4e69" stroke-width="1.1"/>
<text x="264.1" y="650.55" font-size="7" text-anchor="middle">SUD</text>
<text x="308.4" y="474.7" font-size="10.5" font-weight="bold" fill="#000">f</text>
<line x1="331.27" y1="528.86" x2="325.28" y2="553.88" stroke="#3d4e69" stroke-width="1.05"/>
<polygon points="324.58,556.8 323.88,551.8 325.42,553.3 327.48,552.66" fill="#3d4e69"/>
<line x1="345.53" y1="528.86" x2="351.08" y2="553.87" stroke="#3d4e69" stroke-width="1.05"/>
<polygon points="351.72,556.8 348.9,552.61 350.95,553.29 352.51,551.81" fill="#3d4e69"/>
<line x1="431.81" y1="520.05" x2="382.74" y2="555.06" stroke="#3d4e69" stroke-width="1.05"/>
<polygon points="380.29,556.8 383.05,552.56 383.23,554.71 385.19,555.58" fill="#3d4e69"/>
<line x1="436.23" y1="525.67" x2="409.47" y2="554.6" stroke="#3d4e69" stroke-width="1.05"/>
<polygon points="407.44,556.8 409.27,552.09 409.88,554.16 411.99,554.61" fill="#3d4e69"/>
<line x1="442.03" y1="529.03" x2="435.36" y2="553.9" stroke="#3d4e69" stroke-width="1.05"/>
<polygon points="434.58,556.8 434.01,551.78 435.51,553.32 437.58,552.74" fill="#3d4e69"/>
<line x1="454.37" y1="529.03" x2="460.95" y2="553.9" stroke="#3d4e69" stroke-width="1.05"/>
<polygon points="461.72,556.8 458.73,552.73 460.8,553.32 462.31,551.78" fill="#3d4e69"/>
<line x1="460.17" y1="525.67" x2="486.83" y2="554.59" stroke="#3d4e69" stroke-width="1.05"/>
<polygon points="488.86,556.8 484.32,554.6 486.42,554.15 487.04,552.09" fill="#3d4e69"/>
<line x1="464.59" y1="520.05" x2="513.57" y2="555.06" stroke="#3d4e69" stroke-width="1.05"/>
<polygon points="516.01,556.8 511.11,555.57 513.08,554.71 513.26,552.56" fill="#3d4e69"/>
<line x1="550.87" y1="528.86" x2="545.24" y2="553.87" stroke="#3d4e69" stroke-width="1.05"/>
<polygon points="544.58,556.8 543.8,551.81 545.37,553.29 547.41,552.62" fill="#3d4e69"/>
<line x1="565.13" y1="528.86" x2="571.03" y2="553.88" stroke="#3d4e69" stroke-width="1.05"/>
<polygon points="571.72,556.8 568.84,552.65 570.89,553.3 572.44,551.8" fill="#3d4e69"/>
<line x1="430.67" y1="648.06" x2="328.51" y2="580.26" stroke="#3d4e69" stroke-width="1.05"/>
<polygon points="326.01,578.6 330.94,579.66 329.01,580.59 328.9,582.74" fill="#3d4e69"/>
<line x1="432.3" y1="644.75" x2="355.45" y2="580.52" stroke="#3d4e69" stroke-width="1.05"/>
<polygon points="353.15,578.6 357.94,580.19 355.91,580.91 355.57,583.03" fill="#3d4e69"/>
<line x1="435.64" y1="640.78" x2="382.29" y2="580.84" stroke="#3d4e69" stroke-width="1.05"/>
<polygon points="380.29,578.6 384.8,580.88 382.68,581.29 382.03,583.34" fill="#3d4e69"/>
<line x1="442.03" y1="637.06" x2="408.96" y2="581.18" stroke="#3d4e69" stroke-width="1.05"/>
<polygon points="407.43,578.6 411.42,581.7 409.27,581.7 408.23,583.59" fill="#3d4e69"/>
<line x1="446.01" y1="636.2" x2="435.16" y2="581.54" stroke="#3d4e69" stroke-width="1.05"/>
<polygon points="434.58,578.6 437.31,582.85 435.28,582.13 433.68,583.57" fill="#3d4e69"/>
<line x1="449.79" y1="636.2" x2="461.11" y2="581.54" stroke="#3d4e69" stroke-width="1.05"/>
<polygon points="461.72,578.6 462.58,583.58 460.99,582.13 458.95,582.83" fill="#3d4e69"/>
<line x1="453.77" y1="637.06" x2="487.32" y2="581.17" stroke="#3d4e69" stroke-width="1.05"/>
<polygon points="488.86,578.6 488.03,583.58 487.01,581.69 484.86,581.68" fill="#3d4e69"/>
<line x1="460.16" y1="640.78" x2="514" y2="580.83" stroke="#3d4e69" stroke-width="1.05"/>
<polygon points="516,578.6 514.24,583.33 513.6,581.28 511.49,580.86" fill="#3d4e69"/>
<line x1="463.5" y1="644.75" x2="540.84" y2="580.52" stroke="#3d4e69" stroke-width="1.05"/>
<polygon points="543.15,578.6 540.71,583.03 540.38,580.9 538.35,580.18" fill="#3d4e69"/>
<line x1="465.13" y1="648.06" x2="567.78" y2="580.25" stroke="#3d4e69" stroke-width="1.05"/>
<polygon points="570.29,578.6 567.39,582.73 567.28,580.58 565.35,579.65" fill="#3d4e69"/>
<path d="M319.52,502.49 C292.39,495.65 318.98,467.14 327.69,493.72" fill="none" stroke="#3d4e69" stroke-width="1.05"/>
<polygon points="319.52,502.49 314.47,502.61 316.14,501.25 315.74,499.13" fill="#3d4e69"/>
<polygon points="327.69,493.72 324.08,490.18 326.22,490.43 327.46,488.67" fill="#3d4e69"/>
<path d="M429.32,502.29 C402.19,495.45 428.78,466.94 437.49,493.52" fill="none" stroke="#3d4e69" stroke-width="1.05"/>
<polygon points="429.32,502.29 424.27,502.41 425.94,501.05 425.54,498.93" fill="#3d4e69"/>
<polygon points="437.49,493.52 433.88,489.98 436.02,490.23 437.26,488.47" fill="#3d4e69"/>
<path d="M539.12,502.49 C511.99,495.65 538.58,467.14 547.29,493.72" fill="none" stroke="#3d4e69" stroke-width="1.05"/>
<polygon points="539.12,502.49 534.07,502.61 535.74,501.25 535.34,499.13" fill="#3d4e69"/>
<polygon points="547.29,493.72 543.68,490.18 545.82,490.43 547.06,488.67" fill="#3d4e69"/>
<path d="M466.62,664.24 C493.62,671.55 466.54,699.59 458.29,672.86" fill="none" stroke="#3d4e69" stroke-width="1.05"/>
<polygon points="466.62,664.24 471.67,664.21 469.97,665.54 470.34,667.66" fill="#3d4e69"/>
<polygon points="458.29,672.86 461.84,676.46 459.7,676.18 458.43,677.91" fill="#3d4e69"/>
<circle cx="338.4" cy="511.9" r="19.9" fill="#f0e442" stroke="#3d4e69" stroke-width="1.05"/>
<text x="338.4" y="514.1" font-size="8.9" text-anchor="middle" fill="#111">TD</text>
<text x="338.6" y="521.9" font-size="7" text-anchor="middle" font-style="italic" fill="#222">r</text>
<circle cx="448.2" cy="511.7" r="19.9" fill="#009e73" stroke="#3d4e69" stroke-width="1.05"/>
<text x="448.2" y="513.9" font-size="8.9" text-anchor="middle" fill="#111">INT</text>
<text x="448.4" y="521.7" font-size="7" text-anchor="middle" font-style="italic" fill="#222">r</text>
<circle cx="558" cy="511.9" r="19.9" fill="#e69f00" stroke="#3d4e69" stroke-width="1.05"/>
<text x="558" y="514.1" font-size="8.9" text-anchor="middle" fill="#111">EXT</text>
<text x="558.2" y="521.9" font-size="7" text-anchor="middle" font-style="italic" fill="#222">r</text>
<circle cx="447.9" cy="654.5" r="19.9" fill="#56b4e9" stroke="#3d4e69" stroke-width="1.05"/>
<text x="447.9" y="658.1" font-size="14.5" text-anchor="middle" font-style="italic" fill="#111">p</text>
<rect x="313.95" y="557.25" width="20.9" height="20.9" fill="#fff" stroke="#3d4e69" stroke-width="1.1"/>
<text x="324.4" y="570.45" font-size="7" text-anchor="middle">SCZ</text>
<rect x="341.45" y="557.25" width="20.9" height="20.9" fill="#fff" stroke="#3d4e69" stroke-width="1.1"/>
<text x="351.9" y="570.45" font-size="7" text-anchor="middle">BIP</text>
<rect x="368.95" y="557.25" width="20.9" height="20.9" fill="#fff" stroke="#3d4e69" stroke-width="1.1"/>
<text x="379.4" y="570.45" font-size="7" text-anchor="middle">DEP</text>
<rect x="396.45" y="557.25" width="20.9" height="20.9" fill="#fff" stroke="#3d4e69" stroke-width="1.1"/>
<text x="406.9" y="570.45" font-size="7" text-anchor="middle">ANX</text>
<rect x="423.95" y="557.25" width="20.9" height="20.9" fill="#fff" stroke="#3d4e69" stroke-width="1.1"/>
<text x="434.4" y="570.45" font-size="7" text-anchor="middle">EAT</text>
<rect x="451.45" y="557.25" width="20.9" height="20.9" fill="#fff" stroke="#3d4e69" stroke-width="1.1"/>
<text x="461.9" y="570.45" font-size="7" text-anchor="middle">OCD</text>
<rect x="478.95" y="557.25" width="20.9" height="20.9" fill="#fff" stroke="#3d4e69" stroke-width="1.1"/>
<text x="489.4" y="570.45" font-size="7" text-anchor="middle">SUI</text>
<rect x="506.45" y="557.25" width="20.9" height="20.9" fill="#fff" stroke="#3d4e69" stroke-width="1.1"/>
<text x="516.9" y="570.45" font-size="7" text-anchor="middle">PTSD</text>
<rect x="533.95" y="557.25" width="20.9" height="20.9" fill="#fff" stroke="#3d4e69" stroke-width="1.1"/>
<text x="544.4" y="570.45" font-size="7" text-anchor="middle">AUD</text>
<rect x="561.45" y="557.25" width="20.9" height="20.9" fill="#fff" stroke="#3d4e69" stroke-width="1.1"/>
<text x="571.9" y="570.45" font-size="7" text-anchor="middle">SUD</text>
</svg></body></html>
